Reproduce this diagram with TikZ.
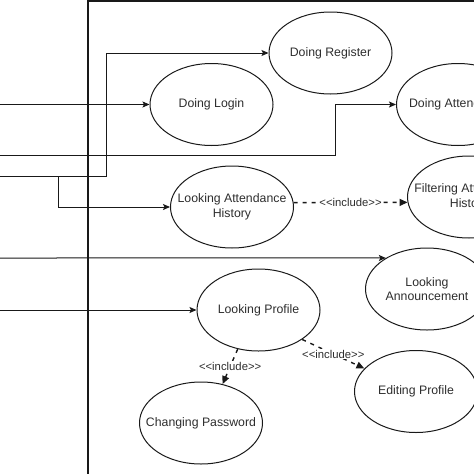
\documentclass[tikz,border=0pt]{standalone}
\usepackage{fontspec}
\setmainfont{Liberation Sans}
\newfontfamily\inclfont{Liberation Sans}
\usetikzlibrary{arrows.meta, shapes.geometric}
\definecolor{cLine}{RGB}{25,25,25}
\definecolor{cText}{RGB}{45,45,45}
\tikzset{
  %% use case ovals
  usecase/.style={ellipse, draw=cLine, line width=1pt, minimum width=123pt,
                  minimum height=82pt, inner xsep=-22pt, inner ysep=0pt,
                  align=center, text=cText, font=\fontsize{12.3}{14.5}\selectfont},
  %% actor associations
  assoc/.style={-{Stealth[length=7pt, width=6pt, inset=1.5pt]}, draw=cLine,
                line width=1pt},
  %% include dependencies
  incl/.style={-{Triangle[length=8pt, width=7pt]}, draw=cLine,
               line width=1.4pt, dash pattern=on 4pt off 5pt},
  incllabel/.style={fill=white, inner sep=1pt, text=cText,
                    font=\inclfont\fontsize{11.3}{13}\selectfont},
  %% system boundary
  boundary/.style={draw=cLine, line width=1.4pt},
}

\begin{document}
\begin{tikzpicture}[x=1pt, y=-1pt]

\useasboundingbox (0,0) rectangle (474,474);
\clip (0,0) rectangle (474,474);

%% ============================================================
%%  SYSTEM BOUNDARY
%% ============================================================
\draw[boundary] (88,1) rectangle (540,540);

%% ============================================================
%%  USE CASES
%% ============================================================
\node[usecase] (reg)   at (330.5, 53)   {Doing Register};
\node[usecase] (login) at (211.5, 104.5) {Doing Login};
\node[usecase] (att)   at (458, 104.5)   {Doing Attendance};
\node[usecase] (lah)   at (232, 207)     {Looking Attendance\\History};
\node[usecase] (filt)  at (469, 197)     {Filtering Attendance\\History};
\node[usecase] (ann)   at (427, 289)     {Looking\\Announcement};
\node[usecase] (prof)  at (258.5, 310)   {Looking Profile};
\node[usecase] (pwd)   at (201, 423)     {Changing Password};
\node[usecase] (edit)  at (416, 391.5)   {Editing Profile};

%% ============================================================
%%  ACTOR LINES (actors sit left, outside the picture)
%% ============================================================
\coordinate (actA) at (-5, 104.5);
\coordinate (actB) at (-5, 176);
\coordinate (actC) at (-5, 155);
\coordinate (actD) at (-5, 258);
\coordinate (actE) at (-5, 310);
\coordinate (brLAH) at (58, 176);

\draw[assoc] (actA) -- (login.west);
\draw[assoc] (actB) -- ++(111,0) |- (reg.west);
\draw[assoc] (brLAH) |- (lah.west);
\draw[assoc] (actC) -- ++(340,0) |- (att.west);
\draw[assoc] (actD) -- (ann.143);
\draw[assoc] (actE) -- (prof.west);

%% ============================================================
%%  INCLUDES
%% ============================================================
\draw[incl] (lah.4) -- (filt.185)
  node[midway, incllabel] {<<include>>};
\draw[incl] (prof.242) -- (pwd.61)
  node[midway, incllabel] {<<include>>};
\draw[incl] (prof.326) -- (edit.156)
  node[midway, incllabel] {<<include>>};

\end{tikzpicture}
\end{document}
